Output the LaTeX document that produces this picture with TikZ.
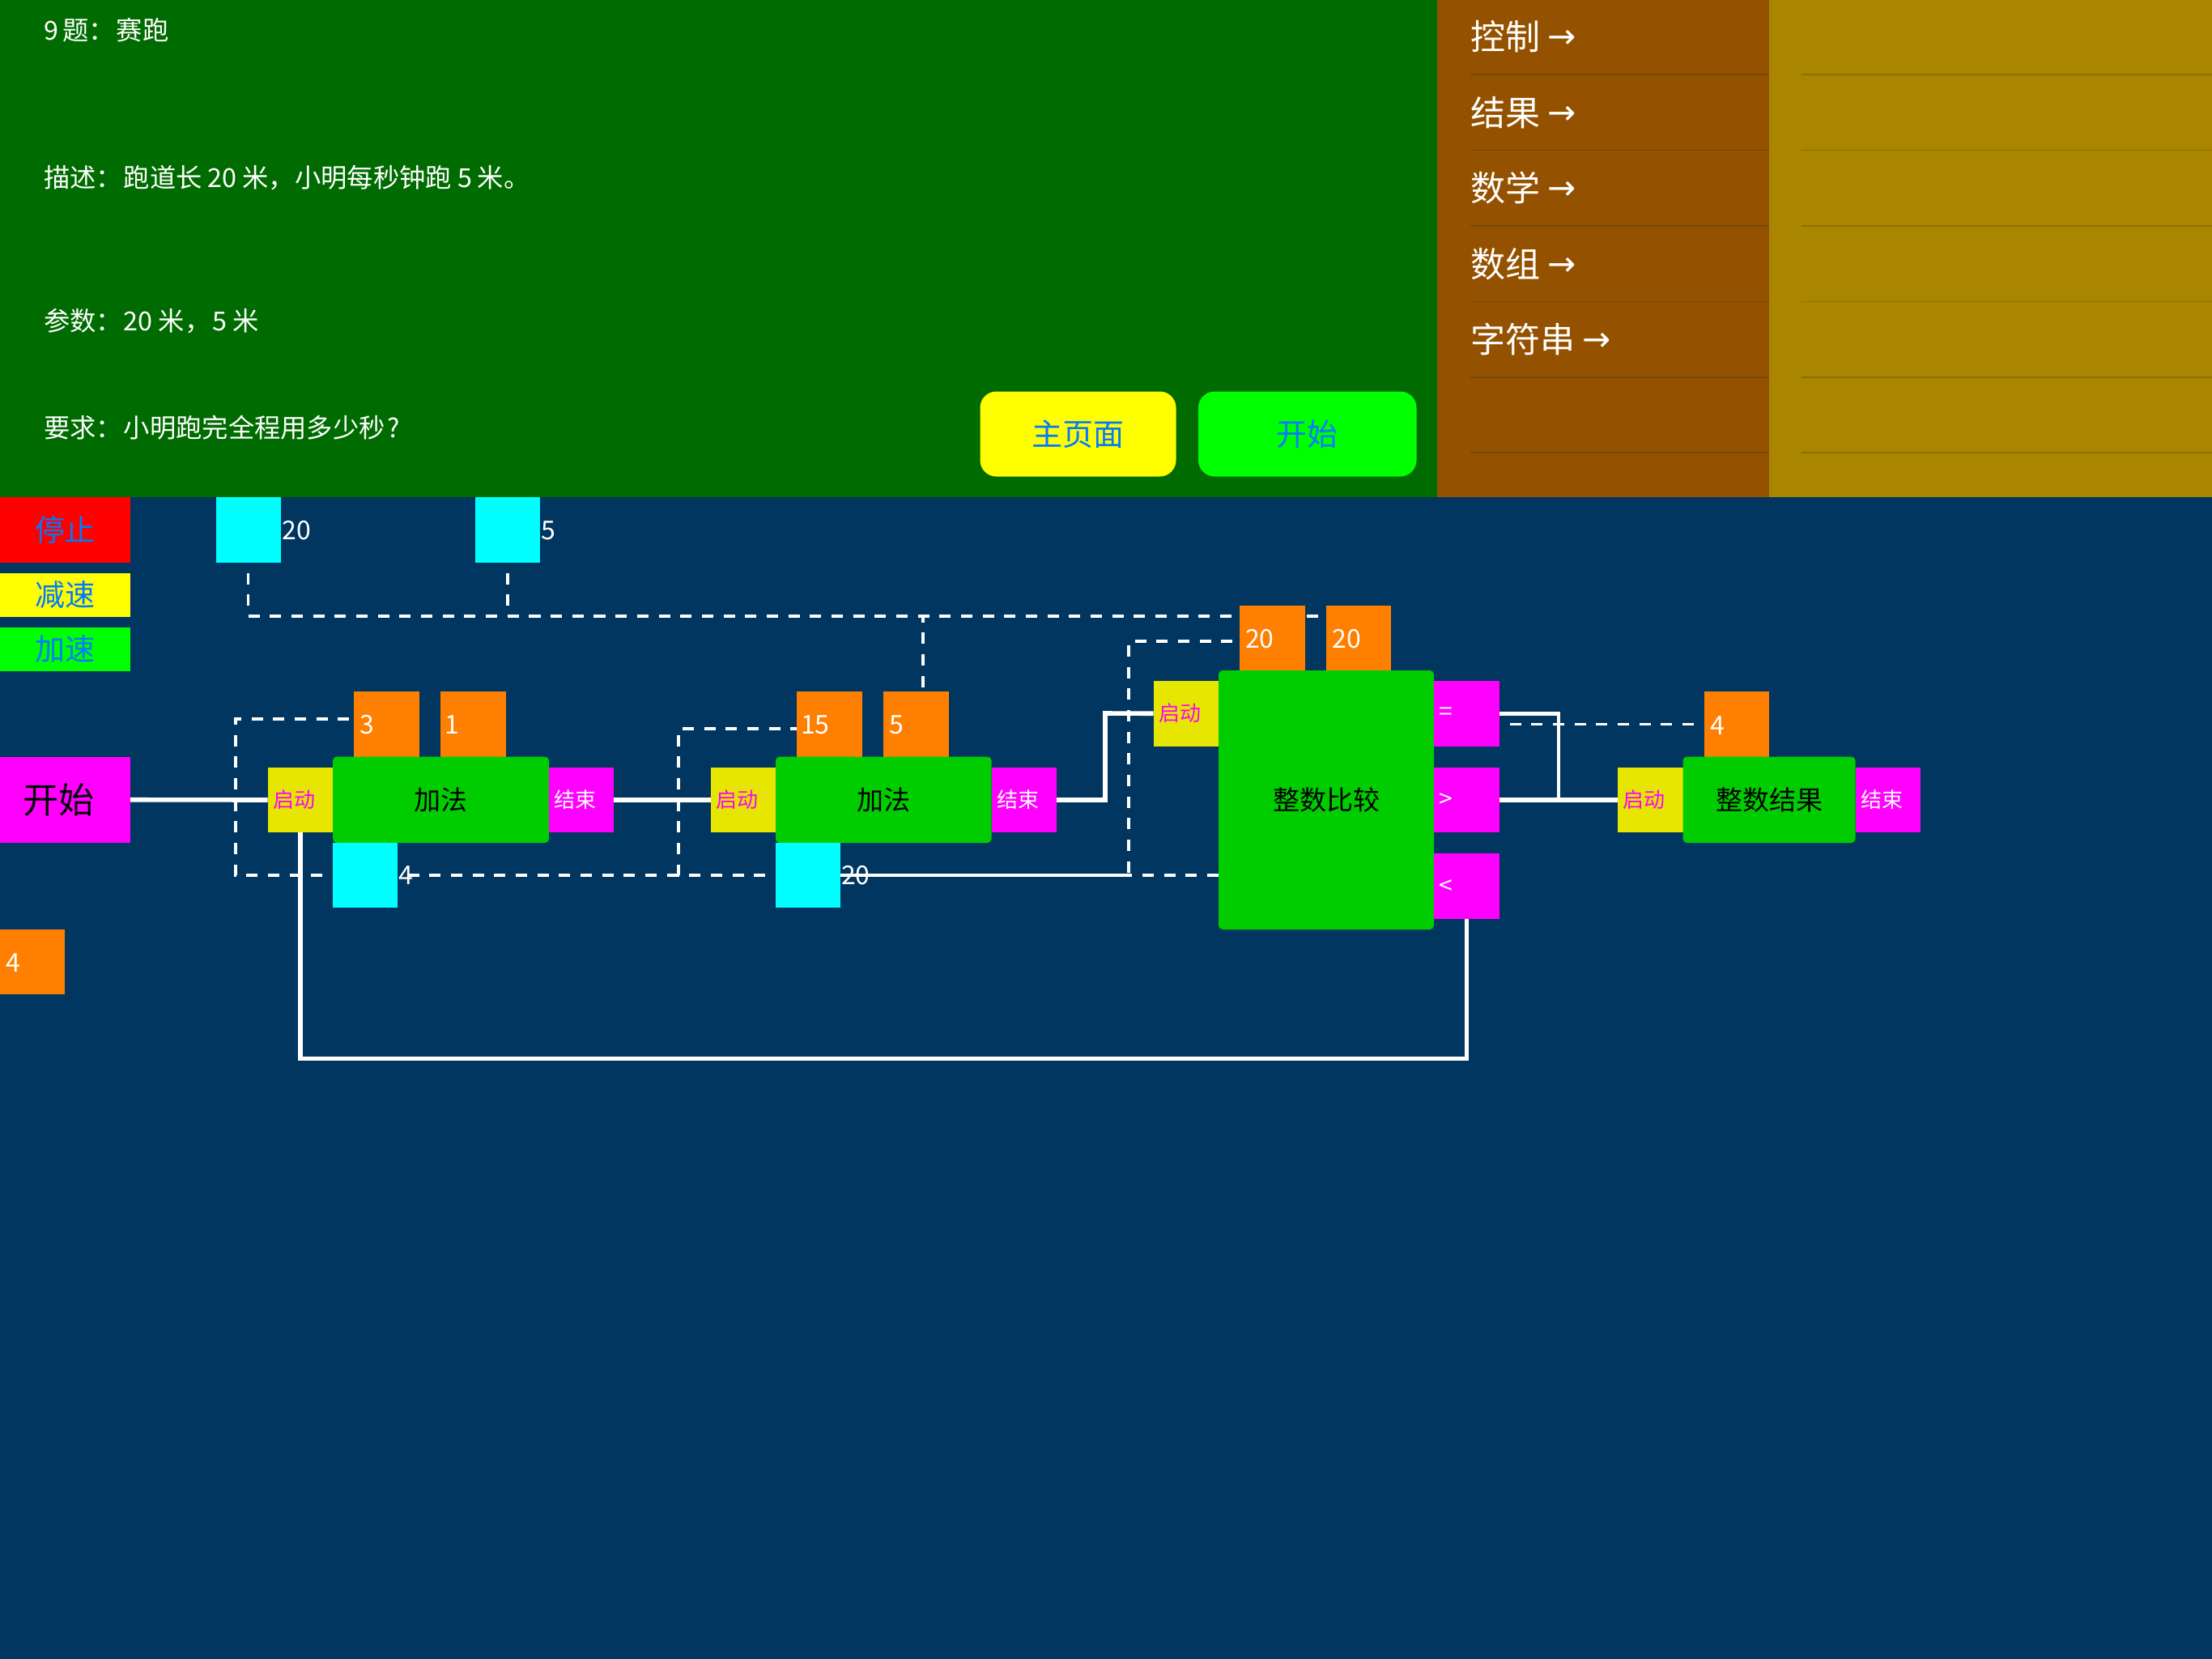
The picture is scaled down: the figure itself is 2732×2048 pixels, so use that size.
\documentclass[tikz,border=0pt]{standalone}
\usepackage{fontspec}
\setmainfont{Noto Sans CJK SC}
\newfontfamily\arrowf{DejaVu Sans}
\usetikzlibrary{backgrounds}
\definecolor{navy}{RGB}{0,54,96}
\definecolor{topgreen}{RGB}{0,107,0}
\definecolor{mocha}{RGB}{148,82,0}
\definecolor{gold}{RGB}{170,133,0}
\definecolor{mochaline}{RGB}{115,74,10}
\definecolor{goldline}{RGB}{140,110,6}
\definecolor{blockgreen}{RGB}{0,204,0}
\definecolor{orangebox}{RGB}{255,128,0}
\definecolor{startyellow}{RGB}{230,230,0}
\definecolor{iosblue}{RGB}{0,122,255}
\definecolor{puremagenta}{RGB}{255,0,255}
\definecolor{purecyan}{RGB}{0,255,255}
\definecolor{pureyellow}{RGB}{255,255,0}
\definecolor{puregreen}{RGB}{0,255,0}
\definecolor{purered}{RGB}{255,0,0}
\newcommand{\fs}[1]{\fontsize{#1}{#1}\selectfont}
\newcommand{\gp}{\hspace{7pt}}
\newcommand{\arw}{\raisebox{2pt}{\arrowf\fs{42}→}}
\pgfdeclarelayer{panels}
\pgfdeclarelayer{wires}
\pgfsetlayers{panels,wires,main}
\tikzset{
  x=1pt,y=-1pt,
  blk/.style={anchor=north west,inner sep=0pt,outer sep=0pt,text=black},
  lbl/.style={anchor=west,inner sep=0pt,outer sep=0pt},
  block/.style={blk,fill=blockgreen,rounded corners=5pt,font=\fs{33}},
  startp/.style={blk,fill=startyellow},
  endp/.style={blk,fill=puremagenta},
  orangep/.style={blk,fill=orangebox},
  cyanp/.style={blk,fill=purecyan},
  ctrl/.style={blk,font=\fs{37},text=iosblue},
  btn/.style={blk,rounded corners=20pt,font=\fs{38},text=iosblue},
  startt/.style={lbl,font=\fs{26},text=puremagenta},
  endt/.style={lbl,font=\fs{26},text=white},
  symt/.style={lbl,font=\fs{30},text=white},
  numt/.style={lbl,font=\fs{32},text=white},
  prob/.style={lbl,font=\fs{32.3},text=white},
  menu/.style={lbl,font=\fs{43},text=white},
  wire/.style={draw=white,line width=5.6pt},
  wirethin/.style={draw=white,line width=4.6pt},
  dline/.style={draw=white,line width=3.2pt,dash pattern=on 14pt off 12.67pt},
  dlinegap/.style={dline,dash phase=14pt},
}
\newcommand{\blk}[7]{\node[#6,minimum width={(#4-#2)*1pt},minimum height={(#5-#3)*1pt}] (#1) at (#2,#3) {#7};}
\newcommand{\lbl}[5]{\node[#4] (#1) at (#2,#3) {#5};}
\begin{document}
\begin{tikzpicture}
\useasboundingbox (0,0) rectangle (2732,2048);
\begin{pgfonlayer}{panels}
  \fill[navy] (-4,-4) rectangle (2736,2052);
  \fill[topgreen] (-4,-4) rectangle (1775,614);
  \fill[mocha] (1775,-4) rectangle (2185,614);
  \fill[gold] (2185,-4) rectangle (2736,614);
  \foreach \yy in {92,185.5,279,372.5,466,559}{
    \draw[mochaline,line width=1.6pt] (1816,\yy) -- (2185,\yy);
    \draw[goldline,line width=1.6pt] (2225,\yy) -- (2736,\yy);
  }
\end{pgfonlayer}

% problem text
\lbl{p1}{54}{37.5}{prob}{9\,题：\kern2pt 赛跑}
\lbl{p2}{54}{219.5}{prob}{描述：\kern2pt 跑道长\gp 20\gp 米，小明每秒钟跑\gp 5\gp 米。}
\lbl{p3}{54}{397}{prob}{参数：\kern2pt 20\gp 米，\kern2pt 5\gp 米}
\lbl{p4}{54}{528.5}{prob}{要求：\kern2pt 小明跑完全程用多少秒\kern3pt ?}
\blk{home}{1210.5}{483.5}{1452.5}{588.5}{btn,fill=pureyellow}{主页面}
\blk{run}{1480}{483.5}{1749.5}{588.5}{btn,fill=puregreen}{开始}
% menu
\lbl{m1}{1816}{45.5}{menu}{控制 \arw}
\lbl{m2}{1816}{139}{menu}{结果 \arw}
\lbl{m3}{1816}{232.5}{menu}{数学 \arw}
\lbl{m4}{1816}{326}{menu}{数组 \arw}
\lbl{m5}{1816}{419}{menu}{字符串 \arw}
% speed controls
\blk{stop}{0}{614}{160.5}{695}{ctrl,fill=purered}{停止}
\blk{slow}{0}{708}{160.5}{761.5}{ctrl,fill=pureyellow}{减速}
\blk{fast}{0}{774.5}{160.5}{828.5}{ctrl,fill=puregreen}{加速}
\blk{go}{0}{934.5}{160.5}{1041}{blk,fill=puremagenta}{}
\lbl{got}{28}{988}{lbl,font=\fs{44},text=black}{开始}
\blk{res}{0}{1148}{80}{1228}{orangep}{}
\lbl{rest}{7}{1189}{numt}{4}
% top inputs
\blk{cta}{266.5}{614}{347}{695}{cyanp}{}
\lbl{ctat}{348.5}{655}{numt}{20}
\blk{ctb}{587}{614}{667}{695}{cyanp}{}
\lbl{ctbt}{668}{655}{numt}{5}
% add 1
\blk{oa}{437}{854}{518}{934.5}{orangep}{}
\lbl{oat}{444}{895}{numt}{3}
\blk{ob}{544}{854}{624.5}{934.5}{orangep}{}
\lbl{obt}{549}{895}{numt}{1}
\blk{sa}{330.5}{948}{411}{1028}{startp}{}
\lbl{sat}{337}{988}{startt}{启动}
\blk{ba}{411}{934.5}{678}{1041}{block}{加法}
\blk{ea}{678}{948}{757.5}{1028}{endp}{}
\lbl{eat}{684}{988}{endt}{结束}
\blk{ca}{411}{1041}{491}{1121}{cyanp}{}
\lbl{cat}{492}{1081}{numt}{4}
% add 2
\blk{oc}{984}{854}{1064.5}{934.5}{orangep}{}
\lbl{oct}{989}{895}{numt}{15}
\blk{od}{1091}{854}{1171.5}{934.5}{orangep}{}
\lbl{odt}{1098}{895}{numt}{5}
\blk{sb}{877.5}{948}{958}{1028}{startp}{}
\lbl{sbt}{884}{988}{startt}{启动}
\blk{bb}{958}{934.5}{1224.5}{1041}{block}{加法}
\blk{eb}{1224.5}{948}{1305}{1028}{endp}{}
\lbl{ebt}{1231}{988}{endt}{结束}
\blk{cb}{958}{1041}{1038}{1121}{cyanp}{}
\lbl{cbt}{1039}{1081}{numt}{20}
% compare
\blk{oe}{1530.5}{747.5}{1611.5}{828}{orangep}{}
\lbl{oet}{1538}{789}{numt}{20}
\blk{of}{1638}{747.5}{1718}{828}{orangep}{}
\lbl{oft}{1645.5}{789}{numt}{20}
\blk{sc}{1424.5}{841}{1505}{921.5}{startp}{}
\lbl{sct}{1431.5}{881}{startt}{启动}
\blk{bc}{1505}{828}{1771}{1148}{block}{整数比较}
\blk{eq}{1771}{841}{1852}{921.5}{endp}{}
\lbl{eqt}{1777}{882}{symt}{=}
\blk{gt}{1771}{948}{1852}{1028}{endp}{}
\lbl{gtt}{1777}{989}{symt}{>}
\blk{lt}{1771}{1054}{1852}{1135}{endp}{}
\lbl{ltt}{1777}{1096}{symt}{<}
% result
\blk{og}{2104.5}{854}{2185}{934.5}{orangep}{}
\lbl{ogt}{2112}{896}{numt}{4}
\blk{sd}{1998}{948}{2078.5}{1028}{startp}{}
\lbl{sdt}{2004.5}{988}{startt}{启动}
\blk{bd}{2078.5}{934.5}{2291.5}{1041}{block}{整数结果}
\blk{ed}{2291.5}{948}{2372}{1028}{endp}{}
\lbl{edt}{2298}{988}{endt}{结束}
% routing points
\coordinate (jb) at (1365,881);
\coordinate (jc) at (1925,988);
\coordinate (lp) at (1000,1307.5);
\coordinate (la) at (291,888);
\coordinate (lb) at (838,900);
\coordinate (lc) at (1394,792);
\coordinate (up) at (1140,761);
\begin{pgfonlayer}{wires}
  \draw[wire] (go.east) -- (sa.west);
  \draw[wire] (ea.east) -- (sb.west);
  \draw[wire] (eb.east) -| (jb) -- (sc.west);
  \draw[wire] (gt.east) -- (sd.west);
  \draw[wirethin] (eq.east) -| (jc);
  \draw[wire] (lt.south) |- (lp) -| (sa.south);
  % dashed data links
  \draw[dlinegap] (cta.south) |- (of.west |- up);
  \draw[dlinegap] (ctb.south) |- (up) -- (up |- od.north);
  \draw[dlinegap] (ca.west) -| (la) -- (la -| oa.west);
  \draw[dlinegap] (ca.east) -- (lb |- ca.east);
  \draw[dlinegap] (cb.west) -| (lb) -- (lb -| oc.west);
  \draw[dlinegap] (cb.east) -| (lc) -- (lc -| oe.west);
  \draw[dline] (cb.east -| bc.west) -- (cb.east);
  \draw[dlinegap] (og.west -| eq.east) -- (og.west);
\end{pgfonlayer}
\end{tikzpicture}
\end{document}
